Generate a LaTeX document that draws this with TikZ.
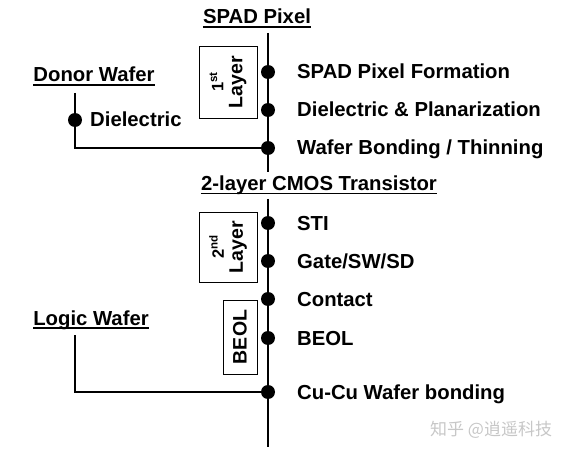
\documentclass[tikz,border=0pt]{standalone}
\usepackage{fontspec}
\setmainfont{Liberation Sans}
\newfontfamily\cjk{Noto Sans CJK SC}
\usetikzlibrary{calc}
\begin{document}
\begin{tikzpicture}[x=1pt,y=-1pt,
  lbl/.style={font=\bfseries\fontsize{20.3}{22}\selectfont, anchor=base west, inner sep=0pt},
  ttl/.style={font=\bfseries\fontsize{20.3}{22}\selectfont, inner sep=0pt, anchor=base},
  wire/.style={line width=2.6pt},
  uline/.style={line width=1.5pt},
  dot/.style={circle, fill=black, inner sep=0pt, minimum size=14pt},
  lbox/.style={draw, line width=0.8pt, inner sep=0pt},
  rot/.style={font=\bfseries\fontsize{19.5}{21}\selectfont, rotate=90, align=center, inner sep=0pt}]
\useasboundingbox (0,0) rectangle (566,452);
% titles
\node[ttl] (t1) at (257,24) {SPAD Pixel};
\draw[uline] ($(t1.base west)+(0,3)$) -- ($(t1.base east)+(0,3)$);
\node[ttl] (t2) at (319,190) {2-layer CMOS Transistor};
\draw[uline] ($(t2.base west)+(0,3.5)$) -- ($(t2.base east)+(0,3.5)$);
\node[ttl] (t3) at (94,82) {Donor Wafer};
\draw[uline] ($(t3.base west)+(0,3)$) -- ($(t3.base east)+(0,3)$);
\node[ttl] (t4) at (91,325) {Logic Wafer};
\draw[uline] ($(t4.base west)+(0,3)$) -- ($(t4.base east)+(0,3)$);
% main line coordinates
\coordinate (u0) at (268,33);
\coordinate (u1) at (268,172);
\coordinate (l0) at (268,199);
\coordinate (l1) at (268,447);
\draw[wire] (u0) -- (u1);
\draw[wire] (l0) -- (l1);
% dots
\node[dot] (d1) at (268,72) {};
\node[dot] (d2) at (268,110) {};
\node[dot] (d3) at (268,148) {};
\node[dot] (d4) at (268,223) {};
\node[dot] (d5) at (268,261) {};
\node[dot] (d6) at (268,299) {};
\node[dot] (d7) at (268,338) {};
\node[dot] (d8) at (268,392) {};
% right labels
\node[lbl] at (297,79) {SPAD Pixel Formation};
\node[lbl] at (297,117) {Dielectric \& Planarization};
\node[lbl] at (297,155) {Wafer Bonding / Thinning};
\node[lbl] at (297,230) {STI};
\node[lbl] at (297,268) {Gate/SW/SD};
\node[lbl] at (297,306) {Contact};
\node[lbl] at (297,345) {BEOL};
\node[lbl] at (297,399) {Cu-Cu Wafer bonding};
% donor branch
\coordinate (dw0) at (75,93);
\coordinate (dwc) at (75,148);
\node[dot] (dd) at (75,120) {};
\node[lbl] at (90,127) {Dielectric};
\draw[wire] (dw0) -- (dwc) -- (d3.center);
% logic branch
\coordinate (lw0) at (75,335);
\coordinate (lwc) at (75,392);
\draw[wire] (lw0) -- (lwc) -- (d8.center);
% boxes
\node[lbox, minimum width=58pt, minimum height=72pt] (b1) at (228,82) {};
\node[rot] at (b1.center) {{\fontsize{16.5}{17}\selectfont 1\textsuperscript{st}}\\[-2pt]Layer};
\node[lbox, minimum width=58pt, minimum height=70pt] (b2) at (228,247) {};
\node[rot] at (b2.center) {{\fontsize{16.5}{17}\selectfont 2\textsuperscript{nd}}\\[-2pt]Layer};
\node[lbox, minimum width=34pt, minimum height=74pt] (b3) at (240,337) {};
\node[rot] at (b3.center) {BEOL};
% watermark
\node[font=\cjk\fontsize{17}{18}\selectfont, text=black!22, anchor=base west, inner sep=0pt] (wm) at (430,435) {知乎 @逍遥科技};
\end{tikzpicture}
\end{document}
